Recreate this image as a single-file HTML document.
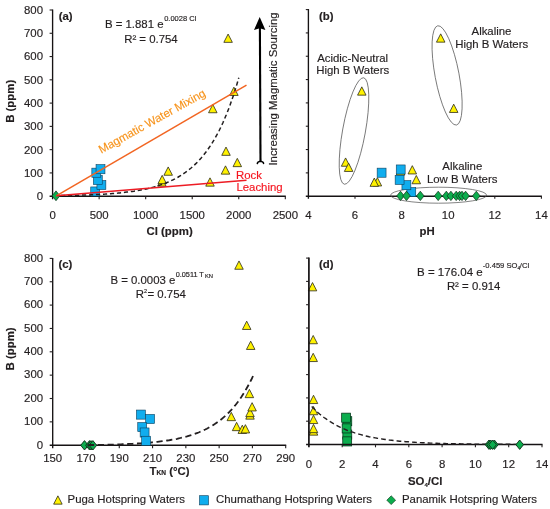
<!DOCTYPE html>
<html><head><meta charset="utf-8"><title>Figure</title>
<style>
html,body{margin:0;padding:0;background:#fff}
svg{display:block}
text{font-family:"Liberation Sans", sans-serif;fill:#231F20;stroke:#231F20;stroke-width:.16px}
.tk{font-size:11.4px}
.lb{font-size:11.4px}
.bd{font-size:11.4px;font-weight:bold}
.sup{font-size:7.5px}
.sup2{font-size:7.6px}
</style></head><body>
<svg width="550" height="509" viewBox="0 0 550 509">
<rect width="550" height="509" fill="#fff"/>
<g id="pa">
<path d="M52.6 9.5V199.2M49.6 196.2H285.8" fill="none" stroke="#161314" stroke-width="1.35"/>
<path d="M99.14 196.2v3.0" stroke="#231F20" stroke-width="1.1"/>
<path d="M145.68 196.2v3.0" stroke="#231F20" stroke-width="1.1"/>
<path d="M192.22 196.2v3.0" stroke="#231F20" stroke-width="1.1"/>
<path d="M238.76 196.2v3.0" stroke="#231F20" stroke-width="1.1"/>
<path d="M285.30 196.2v3.0" stroke="#231F20" stroke-width="1.1"/>
<path d="M52.6 172.92h-3.0" stroke="#231F20" stroke-width="1.1"/>
<path d="M52.6 149.65h-3.0" stroke="#231F20" stroke-width="1.1"/>
<path d="M52.6 126.38h-3.0" stroke="#231F20" stroke-width="1.1"/>
<path d="M52.6 103.10h-3.0" stroke="#231F20" stroke-width="1.1"/>
<path d="M52.6 79.82h-3.0" stroke="#231F20" stroke-width="1.1"/>
<path d="M52.6 56.55h-3.0" stroke="#231F20" stroke-width="1.1"/>
<path d="M52.6 33.28h-3.0" stroke="#231F20" stroke-width="1.1"/>
<path d="M52.6 10.00h-3.0" stroke="#231F20" stroke-width="1.1"/>
<text x="52.60" y="219.0" text-anchor="middle" class="tk">0</text>
<text x="99.14" y="219.0" text-anchor="middle" class="tk">500</text>
<text x="145.68" y="219.0" text-anchor="middle" class="tk">1000</text>
<text x="192.22" y="219.0" text-anchor="middle" class="tk">1500</text>
<text x="238.76" y="219.0" text-anchor="middle" class="tk">2000</text>
<text x="285.30" y="219.0" text-anchor="middle" class="tk">2500</text>
<text x="43.0" y="200.10" text-anchor="end" class="tk">0</text>
<text x="43.0" y="176.82" text-anchor="end" class="tk">100</text>
<text x="43.0" y="153.55" text-anchor="end" class="tk">200</text>
<text x="43.0" y="130.28" text-anchor="end" class="tk">300</text>
<text x="43.0" y="107.00" text-anchor="end" class="tk">400</text>
<text x="43.0" y="83.72" text-anchor="end" class="tk">500</text>
<text x="43.0" y="60.45" text-anchor="end" class="tk">600</text>
<text x="43.0" y="37.18" text-anchor="end" class="tk">700</text>
<text x="43.0" y="13.90" text-anchor="end" class="tk">800</text>
<rect x="90.75" y="186.95" width="8.9" height="9.1" fill="#10ADEE" stroke="#0d3f5c" stroke-width="0.6"/>
<rect x="96.95" y="180.45" width="8.9" height="9.1" fill="#10ADEE" stroke="#0d3f5c" stroke-width="0.6"/>
<rect x="93.35" y="175.45" width="8.9" height="9.1" fill="#10ADEE" stroke="#0d3f5c" stroke-width="0.6"/>
<rect x="91.85" y="168.15" width="8.9" height="9.1" fill="#10ADEE" stroke="#0d3f5c" stroke-width="0.6"/>
<rect x="96.05" y="164.65" width="8.9" height="9.1" fill="#10ADEE" stroke="#0d3f5c" stroke-width="0.6"/>
<path d="M223.85 42.35L228.10 34.05L232.35 42.35Z" fill="#FFF200" stroke="#2b2a1a" stroke-width="0.8" stroke-linejoin="miter"/>
<path d="M229.65 95.45L233.90 87.15L238.15 95.45Z" fill="#FFF200" stroke="#2b2a1a" stroke-width="0.8" stroke-linejoin="miter"/>
<path d="M208.55 112.75L212.80 104.45L217.05 112.75Z" fill="#FFF200" stroke="#2b2a1a" stroke-width="0.8" stroke-linejoin="miter"/>
<path d="M221.75 155.35L226.00 147.05L230.25 155.35Z" fill="#FFF200" stroke="#2b2a1a" stroke-width="0.8" stroke-linejoin="miter"/>
<path d="M233.05 166.65L237.30 158.35L241.55 166.65Z" fill="#FFF200" stroke="#2b2a1a" stroke-width="0.8" stroke-linejoin="miter"/>
<path d="M221.25 174.15L225.50 165.85L229.75 174.15Z" fill="#FFF200" stroke="#2b2a1a" stroke-width="0.8" stroke-linejoin="miter"/>
<path d="M163.95 175.25L168.20 166.95L172.45 175.25Z" fill="#FFF200" stroke="#2b2a1a" stroke-width="0.8" stroke-linejoin="miter"/>
<path d="M157.55 186.15L161.80 177.85L166.05 186.15Z" fill="#FFF200" stroke="#2b2a1a" stroke-width="0.8" stroke-linejoin="miter"/>
<path d="M157.95 183.65L162.20 175.35L166.45 183.65Z" fill="#FFF200" stroke="#2b2a1a" stroke-width="0.8" stroke-linejoin="miter"/>
<path d="M205.75 186.15L210.00 177.85L214.25 186.15Z" fill="#FFF200" stroke="#2b2a1a" stroke-width="0.8" stroke-linejoin="miter"/>
<path d="M52.10 195.80L56.00 190.90L59.90 195.80L56.00 200.70Z" fill="#0CAD4E" stroke="#0c2a14" stroke-width="0.7"/>
<path d="M61.0 195.6 L62.8 195.6 L64.5 195.6 L66.3 195.5 L68.1 195.5 L69.9 195.5 L71.6 195.4 L73.4 195.4 L75.2 195.3 L77.0 195.3 L78.8 195.2 L80.5 195.2 L82.3 195.1 L84.1 195.1 L85.9 195.0 L87.6 194.9 L89.4 194.9 L91.2 194.8 L93.0 194.7 L94.8 194.6 L96.5 194.6 L98.3 194.5 L100.1 194.4 L101.9 194.3 L103.6 194.2 L105.4 194.1 L107.2 193.9 L109.0 193.8 L110.8 193.7 L112.5 193.5 L114.3 193.4 L116.1 193.2 L117.9 193.1 L119.6 192.9 L121.4 192.7 L123.2 192.5 L125.0 192.3 L126.8 192.1 L128.5 191.9 L130.3 191.7 L132.1 191.4 L133.9 191.2 L135.6 190.9 L137.4 190.6 L139.2 190.3 L141.0 189.9 L142.8 189.6 L144.5 189.2 L146.3 188.9 L148.1 188.5 L149.9 188.0 L151.6 187.6 L153.4 187.1 L155.2 186.6 L157.0 186.1 L158.8 185.5 L160.5 184.9 L162.3 184.3 L164.1 183.7 L165.9 183.0 L167.6 182.3 L169.4 181.5 L171.2 180.7 L173.0 179.8 L174.8 178.9 L176.5 178.0 L178.3 177.0 L180.1 175.9 L181.9 174.8 L183.6 173.6 L185.4 172.4 L187.2 171.1 L189.0 169.7 L190.8 168.3 L192.5 166.7 L194.3 165.1 L196.1 163.4 L197.9 161.6 L199.6 159.7 L201.4 157.7 L203.2 155.6 L205.0 153.3 L206.8 151.0 L208.5 148.5 L210.3 145.9 L212.1 143.1 L213.9 140.2 L215.6 137.1 L217.4 133.9 L219.2 130.5 L221.0 126.8 L222.8 123.0 L224.5 119.0 L226.3 114.8 L228.1 110.3 L229.9 105.6 L231.6 100.6 L233.4 95.4 L235.2 89.8 L237.0 84.0 L238.8 77.8" stroke="#231F20" stroke-width="1.5" fill="none" stroke-dasharray="4.2 2.8"/>
<path d="M56.3 195.9L246.5 85.1" stroke="#F26522" stroke-width="1.5" fill="none"/>
<path d="M56.3 195.8L246.5 180.2" stroke="#ED1C24" stroke-width="1.5" fill="none"/>
<path d="M259.9 28L260.5 161" stroke="#000" stroke-width="2.1" fill="none"/>
<path d="M259.7 16.9L265.4 30L259.8 28.3L254 30Z" fill="#000"/>
<path d="M257.3 163.6C257.4 161.9 258.6 161.5 260.5 161.2C262.4 161.5 263.4 161.9 263.6 163.4" stroke="#000" stroke-width="1.5" fill="none" stroke-linecap="round"/>
<text transform="translate(277,89) rotate(-90)" text-anchor="middle" class="lb">Increasing Magmatic Sourcing</text>
<text x="58.7" y="20" class="bd">(a)</text>
<text x="104.9" y="28.4" class="lb">B = 1.881 e</text><text x="164.2" y="21.1" class="sup">0.0028 Cl</text>
<text x="124.2" y="42.8" class="lb">R² = 0.754</text>
<text transform="translate(153.8,124.7) rotate(-29)" text-anchor="middle" class="lb" style="fill:#F7941D;stroke:#F7941D;font-size:11.55px">Magmatic Water Mixing</text>
<text x="236" y="179.1" class="lb" style="fill:#F5151F;stroke:#F5151F">Rock</text><text x="236.4" y="191.2" class="lb" style="fill:#F5151F;stroke:#F5151F">Leaching</text>
<text transform="translate(14.1,101.3) rotate(-90)" text-anchor="middle" class="bd">B (ppm)</text>
<text x="169.6" y="235.3" text-anchor="middle" class="bd">Cl (ppm)</text>
</g>
<g id="pb">
<path d="M308.4 9.1V198.79999999999998M305.79999999999995 196.2H541.9" fill="none" stroke="#161314" stroke-width="1.35"/>
<path d="M355.00 196.2v2.6" stroke="#231F20" stroke-width="1.1"/>
<path d="M401.60 196.2v2.6" stroke="#231F20" stroke-width="1.1"/>
<path d="M448.20 196.2v2.6" stroke="#231F20" stroke-width="1.1"/>
<path d="M494.80 196.2v2.6" stroke="#231F20" stroke-width="1.1"/>
<path d="M541.40 196.2v2.6" stroke="#231F20" stroke-width="1.1"/>
<path d="M308.4 172.88h-2.6" stroke="#231F20" stroke-width="1.1"/>
<path d="M308.4 149.55h-2.6" stroke="#231F20" stroke-width="1.1"/>
<path d="M308.4 126.22h-2.6" stroke="#231F20" stroke-width="1.1"/>
<path d="M308.4 102.90h-2.6" stroke="#231F20" stroke-width="1.1"/>
<path d="M308.4 79.57h-2.6" stroke="#231F20" stroke-width="1.1"/>
<path d="M308.4 56.25h-2.6" stroke="#231F20" stroke-width="1.1"/>
<path d="M308.4 32.92h-2.6" stroke="#231F20" stroke-width="1.1"/>
<path d="M308.4 9.60h-2.6" stroke="#231F20" stroke-width="1.1"/>
<text x="308.40" y="219.0" text-anchor="middle" class="tk">4</text>
<text x="355.00" y="219.0" text-anchor="middle" class="tk">6</text>
<text x="401.60" y="219.0" text-anchor="middle" class="tk">8</text>
<text x="448.20" y="219.0" text-anchor="middle" class="tk">10</text>
<text x="494.80" y="219.0" text-anchor="middle" class="tk">12</text>
<text x="541.40" y="219.0" text-anchor="middle" class="tk">14</text>
<ellipse cx="354" cy="131" rx="11.4" ry="54.1" transform="rotate(10.3 354 131)" fill="none" stroke="#4d4d4d" stroke-width="0.7"/>
<ellipse cx="447.1" cy="75.4" rx="12" ry="50.5" transform="rotate(-10.7 447.1 75.4)" fill="none" stroke="#4d4d4d" stroke-width="0.7"/>
<ellipse cx="438.6" cy="195.2" rx="48" ry="8.0" fill="none" stroke="#4d4d4d" stroke-width="0.7"/>
<path d="M436.45 42.15L440.70 33.85L444.95 42.15Z" fill="#FFF200" stroke="#2b2a1a" stroke-width="0.8" stroke-linejoin="miter"/>
<path d="M449.45 112.45L453.70 104.15L457.95 112.45Z" fill="#FFF200" stroke="#2b2a1a" stroke-width="0.8" stroke-linejoin="miter"/>
<path d="M357.55 95.15L361.80 86.85L366.05 95.15Z" fill="#FFF200" stroke="#2b2a1a" stroke-width="0.8" stroke-linejoin="miter"/>
<path d="M341.35 166.25L345.60 157.95L349.85 166.25Z" fill="#FFF200" stroke="#2b2a1a" stroke-width="0.8" stroke-linejoin="miter"/>
<path d="M344.35 171.45L348.60 163.15L352.85 171.45Z" fill="#FFF200" stroke="#2b2a1a" stroke-width="0.8" stroke-linejoin="miter"/>
<path d="M373.15 185.95L377.40 177.65L381.65 185.95Z" fill="#FFF200" stroke="#2b2a1a" stroke-width="0.8" stroke-linejoin="miter"/>
<path d="M370.05 186.35L374.30 178.05L378.55 186.35Z" fill="#FFF200" stroke="#2b2a1a" stroke-width="0.8" stroke-linejoin="miter"/>
<path d="M396.35 175.05L400.60 166.75L404.85 175.05Z" fill="#FFF200" stroke="#2b2a1a" stroke-width="0.8" stroke-linejoin="miter"/>
<rect x="377.15" y="168.15" width="8.9" height="9.1" fill="#10ADEE" stroke="#0d3f5c" stroke-width="0.6"/>
<rect x="396.25" y="164.95" width="8.9" height="9.1" fill="#10ADEE" stroke="#0d3f5c" stroke-width="0.6"/>
<rect x="406.85" y="187.55" width="8.9" height="9.1" fill="#10ADEE" stroke="#0d3f5c" stroke-width="0.6"/>
<rect x="401.95" y="180.65" width="8.9" height="9.1" fill="#10ADEE" stroke="#0d3f5c" stroke-width="0.6"/>
<rect x="395.15" y="175.35" width="8.9" height="9.1" fill="#10ADEE" stroke="#0d3f5c" stroke-width="0.6"/>
<path d="M408.05 173.95L412.30 165.65L416.55 173.95Z" fill="#FFF200" stroke="#2b2a1a" stroke-width="0.8" stroke-linejoin="miter"/>
<path d="M412.05 183.75L416.30 175.45L420.55 183.75Z" fill="#FFF200" stroke="#2b2a1a" stroke-width="0.8" stroke-linejoin="miter"/>
<path d="M396.70 195.90L400.50 191.20L404.30 195.90L400.50 200.60Z" fill="#0CAD4E" stroke="#0c2a14" stroke-width="0.7"/>
<path d="M402.70 195.90L406.50 191.20L410.30 195.90L406.50 200.60Z" fill="#0CAD4E" stroke="#0c2a14" stroke-width="0.7"/>
<path d="M416.50 195.90L420.30 191.20L424.10 195.90L420.30 200.60Z" fill="#0CAD4E" stroke="#0c2a14" stroke-width="0.7"/>
<path d="M434.40 195.90L438.20 191.20L442.00 195.90L438.20 200.60Z" fill="#0CAD4E" stroke="#0c2a14" stroke-width="0.7"/>
<path d="M442.50 195.90L446.30 191.20L450.10 195.90L446.30 200.60Z" fill="#0CAD4E" stroke="#0c2a14" stroke-width="0.7"/>
<path d="M447.10 195.90L450.90 191.20L454.70 195.90L450.90 200.60Z" fill="#0CAD4E" stroke="#0c2a14" stroke-width="0.7"/>
<path d="M452.40 195.90L456.20 191.20L460.00 195.90L456.20 200.60Z" fill="#0CAD4E" stroke="#0c2a14" stroke-width="0.7"/>
<path d="M455.80 195.90L459.60 191.20L463.40 195.90L459.60 200.60Z" fill="#0CAD4E" stroke="#0c2a14" stroke-width="0.7"/>
<path d="M458.20 195.90L462.00 191.20L465.80 195.90L462.00 200.60Z" fill="#0CAD4E" stroke="#0c2a14" stroke-width="0.7"/>
<path d="M461.80 195.90L465.60 191.20L469.40 195.90L465.60 200.60Z" fill="#0CAD4E" stroke="#0c2a14" stroke-width="0.7"/>
<path d="M472.50 195.90L476.30 191.20L480.10 195.90L476.30 200.60Z" fill="#0CAD4E" stroke="#0c2a14" stroke-width="0.7"/>
<text x="318.9" y="20" class="bd">(b)</text>
<text x="352.6" y="61.8" text-anchor="middle" class="lb">Acidic-Neutral</text><text x="352.7" y="74.4" text-anchor="middle" class="lb">High B Waters</text>
<text x="491.5" y="35" text-anchor="middle" class="lb">Alkaline</text><text x="491.7" y="47.9" text-anchor="middle" class="lb">High B Waters</text>
<text x="462.3" y="170" text-anchor="middle" class="lb">Alkaline</text><text x="462.2" y="182.7" text-anchor="middle" class="lb">Low B Waters</text>
<text x="427.2" y="234.7" text-anchor="middle" class="bd">pH</text>
</g>
<g id="pc">
<path d="M52.7 257.9V448.2M49.7 445.2H286.2" fill="none" stroke="#161314" stroke-width="1.35"/>
<path d="M85.99 445.2v3.0" stroke="#231F20" stroke-width="1.1"/>
<path d="M119.27 445.2v3.0" stroke="#231F20" stroke-width="1.1"/>
<path d="M152.56 445.2v3.0" stroke="#231F20" stroke-width="1.1"/>
<path d="M185.84 445.2v3.0" stroke="#231F20" stroke-width="1.1"/>
<path d="M219.13 445.2v3.0" stroke="#231F20" stroke-width="1.1"/>
<path d="M252.41 445.2v3.0" stroke="#231F20" stroke-width="1.1"/>
<path d="M285.70 445.2v3.0" stroke="#231F20" stroke-width="1.1"/>
<path d="M52.7 421.85h-3.0" stroke="#231F20" stroke-width="1.1"/>
<path d="M52.7 398.50h-3.0" stroke="#231F20" stroke-width="1.1"/>
<path d="M52.7 375.15h-3.0" stroke="#231F20" stroke-width="1.1"/>
<path d="M52.7 351.80h-3.0" stroke="#231F20" stroke-width="1.1"/>
<path d="M52.7 328.45h-3.0" stroke="#231F20" stroke-width="1.1"/>
<path d="M52.7 305.10h-3.0" stroke="#231F20" stroke-width="1.1"/>
<path d="M52.7 281.75h-3.0" stroke="#231F20" stroke-width="1.1"/>
<path d="M52.7 258.40h-3.0" stroke="#231F20" stroke-width="1.1"/>
<text x="52.70" y="461.5" text-anchor="middle" class="tk">150</text>
<text x="85.99" y="461.5" text-anchor="middle" class="tk">170</text>
<text x="119.27" y="461.5" text-anchor="middle" class="tk">190</text>
<text x="152.56" y="461.5" text-anchor="middle" class="tk">210</text>
<text x="185.84" y="461.5" text-anchor="middle" class="tk">230</text>
<text x="219.13" y="461.5" text-anchor="middle" class="tk">250</text>
<text x="252.41" y="461.5" text-anchor="middle" class="tk">270</text>
<text x="285.70" y="461.5" text-anchor="middle" class="tk">290</text>
<text x="43.1" y="448.50" text-anchor="end" class="tk">0</text>
<text x="43.1" y="425.15" text-anchor="end" class="tk">100</text>
<text x="43.1" y="401.80" text-anchor="end" class="tk">200</text>
<text x="43.1" y="378.45" text-anchor="end" class="tk">300</text>
<text x="43.1" y="355.10" text-anchor="end" class="tk">400</text>
<text x="43.1" y="331.75" text-anchor="end" class="tk">500</text>
<text x="43.1" y="308.40" text-anchor="end" class="tk">600</text>
<text x="43.1" y="285.05" text-anchor="end" class="tk">700</text>
<text x="43.1" y="261.70" text-anchor="end" class="tk">800</text>
<path d="M80.70 445.30L84.50 440.60L88.30 445.30L84.50 450.00Z" fill="#0CAD4E" stroke="#0c2a14" stroke-width="0.9"/>
<path d="M85.70 445.30L89.50 440.60L93.30 445.30L89.50 450.00Z" fill="#0CAD4E" stroke="#0c2a14" stroke-width="0.9"/>
<path d="M87.20 445.30L91.00 440.60L94.80 445.30L91.00 450.00Z" fill="#0CAD4E" stroke="#0c2a14" stroke-width="0.9"/>
<path d="M89.10 445.30L92.90 440.60L96.70 445.30L92.90 450.00Z" fill="#0CAD4E" stroke="#0c2a14" stroke-width="0.9"/>
<path d="M88.0 445.1 L89.6 445.0 L91.3 445.0 L92.9 445.0 L94.6 445.0 L96.2 444.9 L97.9 444.9 L99.5 444.9 L101.2 444.8 L102.8 444.8 L104.5 444.8 L106.1 444.7 L107.8 444.7 L109.4 444.7 L111.1 444.6 L112.7 444.6 L114.4 444.5 L116.0 444.5 L117.7 444.4 L119.3 444.4 L121.0 444.3 L122.6 444.2 L124.3 444.2 L125.9 444.1 L127.6 444.0 L129.2 443.9 L130.9 443.9 L132.5 443.8 L134.2 443.7 L135.8 443.6 L137.5 443.5 L139.1 443.4 L140.8 443.3 L142.4 443.2 L144.1 443.1 L145.7 442.9 L147.4 442.8 L149.0 442.6 L150.7 442.5 L152.3 442.3 L154.0 442.2 L155.6 442.0 L157.3 441.8 L158.9 441.6 L160.6 441.4 L162.2 441.2 L163.9 441.0 L165.5 440.8 L167.2 440.5 L168.8 440.3 L170.5 440.0 L172.1 439.7 L173.8 439.4 L175.5 439.1 L177.1 438.8 L178.8 438.4 L180.4 438.0 L182.1 437.6 L183.7 437.2 L185.4 436.8 L187.0 436.4 L188.7 435.9 L190.3 435.4 L192.0 434.9 L193.6 434.3 L195.3 433.7 L196.9 433.1 L198.6 432.5 L200.2 431.8 L201.9 431.1 L203.5 430.3 L205.2 429.5 L206.8 428.7 L208.5 427.8 L210.1 426.9 L211.8 425.9 L213.4 424.9 L215.1 423.8 L216.7 422.7 L218.4 421.5 L220.0 420.3 L221.7 419.0 L223.3 417.6 L225.0 416.2 L226.6 414.6 L228.3 413.0 L229.9 411.3 L231.6 409.6 L233.2 407.7 L234.9 405.7 L236.5 403.7 L238.2 401.5 L239.8 399.2 L241.5 396.8 L243.1 394.2 L244.8 391.6 L246.4 388.8 L248.1 385.8 L249.7 382.7 L251.4 379.5 L253.0 376.0" stroke="#231F20" stroke-width="1.8" fill="none" stroke-dasharray="6.2 3.6"/>
<path d="M234.75 269.25L239.00 260.95L243.25 269.25Z" fill="#FFF200" stroke="#2b2a1a" stroke-width="0.8" stroke-linejoin="miter"/>
<path d="M242.45 329.45L246.70 321.15L250.95 329.45Z" fill="#FFF200" stroke="#2b2a1a" stroke-width="0.8" stroke-linejoin="miter"/>
<path d="M246.45 349.45L250.70 341.15L254.95 349.45Z" fill="#FFF200" stroke="#2b2a1a" stroke-width="0.8" stroke-linejoin="miter"/>
<path d="M245.15 397.65L249.40 389.35L253.65 397.65Z" fill="#FFF200" stroke="#2b2a1a" stroke-width="0.8" stroke-linejoin="miter"/>
<path d="M245.75 419.15L250.00 410.85L254.25 419.15Z" fill="#FFF200" stroke="#2b2a1a" stroke-width="0.8" stroke-linejoin="miter"/>
<path d="M245.75 416.65L250.00 408.35L254.25 416.65Z" fill="#FFF200" stroke="#2b2a1a" stroke-width="0.8" stroke-linejoin="miter"/>
<path d="M247.85 410.95L252.10 402.65L256.35 410.95Z" fill="#FFF200" stroke="#2b2a1a" stroke-width="0.8" stroke-linejoin="miter"/>
<path d="M227.05 420.65L231.30 412.35L235.55 420.65Z" fill="#FFF200" stroke="#2b2a1a" stroke-width="0.8" stroke-linejoin="miter"/>
<path d="M232.35 430.65L236.60 422.35L240.85 430.65Z" fill="#FFF200" stroke="#2b2a1a" stroke-width="0.8" stroke-linejoin="miter"/>
<path d="M238.05 433.45L242.30 425.15L246.55 433.45Z" fill="#FFF200" stroke="#2b2a1a" stroke-width="0.8" stroke-linejoin="miter"/>
<path d="M241.15 432.95L245.40 424.65L249.65 432.95Z" fill="#FFF200" stroke="#2b2a1a" stroke-width="0.8" stroke-linejoin="miter"/>
<rect x="136.45" y="410.05" width="8.9" height="9.1" fill="#10ADEE" stroke="#0d3f5c" stroke-width="0.6"/>
<rect x="145.65" y="414.45" width="8.9" height="9.1" fill="#10ADEE" stroke="#0d3f5c" stroke-width="0.6"/>
<rect x="137.75" y="422.55" width="8.9" height="9.1" fill="#10ADEE" stroke="#0d3f5c" stroke-width="0.6"/>
<rect x="140.15" y="427.95" width="8.9" height="9.1" fill="#10ADEE" stroke="#0d3f5c" stroke-width="0.6"/>
<rect x="141.65" y="436.25" width="8.9" height="9.1" fill="#10ADEE" stroke="#0d3f5c" stroke-width="0.6"/>
<text x="58.4" y="267.5" class="bd">(c)</text>
<text x="110.4" y="283.8" class="lb">B = 0.0003 e</text><text x="175.7" y="276.6" class="sup" style="font-size:7.3px">0.0511 T</text><text x="204.9" y="278.4" style="font-size:5.8px">KN</text>
<text x="135.8" y="297.8" class="lb">R</text><text x="144" y="292.8" style="font-size:5.5px">2</text><text x="147.5" y="297.8" class="lb">= 0.754</text>
<text transform="translate(14.1,348.9) rotate(-90)" text-anchor="middle" class="bd">B (ppm)</text>
<text x="149.6" y="474.6" class="bd">T<tspan font-size="6.6">KN</tspan> (°C)</text>
</g>
<g id="pd">
<path d="M308.25 290.85L312.50 282.55L316.75 290.85Z" fill="#FFF200" stroke="#2b2a1a" stroke-width="0.8" stroke-linejoin="miter"/>
<path d="M308.95 343.75L313.20 335.45L317.45 343.75Z" fill="#FFF200" stroke="#2b2a1a" stroke-width="0.8" stroke-linejoin="miter"/>
<path d="M308.95 361.55L313.20 353.25L317.45 361.55Z" fill="#FFF200" stroke="#2b2a1a" stroke-width="0.8" stroke-linejoin="miter"/>
<path d="M309.25 403.55L313.50 395.25L317.75 403.55Z" fill="#FFF200" stroke="#2b2a1a" stroke-width="0.8" stroke-linejoin="miter"/>
<path d="M309.25 414.75L313.50 406.45L317.75 414.75Z" fill="#FFF200" stroke="#2b2a1a" stroke-width="0.8" stroke-linejoin="miter"/>
<path d="M309.25 423.55L313.50 415.25L317.75 423.55Z" fill="#FFF200" stroke="#2b2a1a" stroke-width="0.8" stroke-linejoin="miter"/>
<path d="M309.25 435.15L313.50 426.85L317.75 435.15Z" fill="#FFF200" stroke="#2b2a1a" stroke-width="0.8" stroke-linejoin="miter"/>
<path d="M309.25 432.65L313.50 424.35L317.75 432.65Z" fill="#FFF200" stroke="#2b2a1a" stroke-width="0.8" stroke-linejoin="miter"/>
<rect x="342.85" y="416.65" width="8.9" height="9.1" fill="#0CAD4E" stroke="#06351a" stroke-width="0.75"/>
<rect x="341.65" y="413.15" width="8.9" height="9.1" fill="#0CAD4E" stroke="#06351a" stroke-width="0.75"/>
<rect x="342.85" y="430.05" width="8.9" height="9.1" fill="#0CAD4E" stroke="#06351a" stroke-width="0.75"/>
<rect x="342.15" y="423.85" width="8.9" height="9.1" fill="#0CAD4E" stroke="#06351a" stroke-width="0.75"/>
<rect x="342.75" y="436.85" width="8.9" height="9.1" fill="#0CAD4E" stroke="#06351a" stroke-width="0.75"/>
<path d="M308.9 257.6V447.3M306.09999999999997 444.5H542.5" fill="none" stroke="#161314" stroke-width="1.7"/>
<path d="M342.20 444.5v2.8" stroke="#231F20" stroke-width="1.1"/>
<path d="M375.50 444.5v2.8" stroke="#231F20" stroke-width="1.1"/>
<path d="M408.80 444.5v2.8" stroke="#231F20" stroke-width="1.1"/>
<path d="M442.10 444.5v2.8" stroke="#231F20" stroke-width="1.1"/>
<path d="M475.40 444.5v2.8" stroke="#231F20" stroke-width="1.1"/>
<path d="M508.70 444.5v2.8" stroke="#231F20" stroke-width="1.1"/>
<path d="M542.00 444.5v2.8" stroke="#231F20" stroke-width="1.1"/>
<path d="M308.9 421.20h-2.8" stroke="#231F20" stroke-width="1.1"/>
<path d="M308.9 397.90h-2.8" stroke="#231F20" stroke-width="1.1"/>
<path d="M308.9 374.60h-2.8" stroke="#231F20" stroke-width="1.1"/>
<path d="M308.9 351.30h-2.8" stroke="#231F20" stroke-width="1.1"/>
<path d="M308.9 328.00h-2.8" stroke="#231F20" stroke-width="1.1"/>
<path d="M308.9 304.70h-2.8" stroke="#231F20" stroke-width="1.1"/>
<path d="M308.9 281.40h-2.8" stroke="#231F20" stroke-width="1.1"/>
<path d="M308.9 258.10h-2.8" stroke="#231F20" stroke-width="1.1"/>
<text x="308.90" y="467.7" text-anchor="middle" class="tk">0</text>
<text x="342.20" y="467.7" text-anchor="middle" class="tk">2</text>
<text x="375.50" y="467.7" text-anchor="middle" class="tk">4</text>
<text x="408.80" y="467.7" text-anchor="middle" class="tk">6</text>
<text x="442.10" y="467.7" text-anchor="middle" class="tk">8</text>
<text x="475.40" y="467.7" text-anchor="middle" class="tk">10</text>
<text x="508.70" y="467.7" text-anchor="middle" class="tk">12</text>
<text x="542.00" y="467.7" text-anchor="middle" class="tk">14</text>
<path d="M311.7 406.6 L313.8 408.6 L315.8 410.6 L317.9 412.5 L319.9 414.2 L322.0 415.9 L324.0 417.5 L326.1 418.9 L328.1 420.3 L330.2 421.7 L332.2 422.9 L334.3 424.1 L336.3 425.2 L338.4 426.3 L340.4 427.3 L342.4 428.2 L344.5 429.1 L346.5 430.0 L348.6 430.8 L350.6 431.5 L352.7 432.2 L354.7 432.9 L356.8 433.5 L358.8 434.1 L360.9 434.7 L362.9 435.3 L365.0 435.8 L367.0 436.2 L369.1 436.7 L371.1 437.1 L373.2 437.5 L375.2 437.9 L377.3 438.3 L379.3 438.6 L381.4 438.9 L383.4 439.2 L385.5 439.5 L387.5 439.8 L389.6 440.1 L391.6 440.3 L393.6 440.5 L395.7 440.8 L397.7 441.0 L399.8 441.2 L401.8 441.3 L403.9 441.5 L405.9 441.7 L408.0 441.8 L410.0 442.0 L412.1 442.1 L414.1 442.2 L416.2 442.4 L418.2 442.5 L420.3 442.6 L422.3 442.7 L424.4 442.8 L426.4 442.9 L428.5 443.0 L430.5 443.1 L432.6 443.1 L434.6 443.2 L436.7 443.3 L438.7 443.4 L440.8 443.4 L442.8 443.5 L444.8 443.5 L446.9 443.6 L448.9 443.6 L451.0 443.7 L453.0 443.7 L455.1 443.8 L457.1 443.8 L459.2 443.8 L461.2 443.9 L463.3 443.9 L465.3 444.0 L467.4 444.0 L469.4 444.0 L471.5 444.0 L473.5 444.1 L475.6 444.1 L477.6 444.1 L479.7 444.1 L481.7 444.2 L483.8 444.2 L485.8 444.2 L487.9 444.2 L489.9 444.2 L492.0 444.2 L494.0 444.3 L496.0 444.3 L498.1 444.3 L500.1 444.3 L502.2 444.3 L504.2 444.3 L506.3 444.3 L508.3 444.3 L510.4 444.3 L512.4 444.3 L514.5 444.4 L516.5 444.4" stroke="#231F20" stroke-width="1.4" fill="none" stroke-dasharray="4.8 3"/>
<path d="M485.20 444.70L489.00 440.00L492.80 444.70L489.00 449.40Z" fill="#0CAD4E" stroke="#0c2a14" stroke-width="0.9"/>
<path d="M490.60 444.70L494.40 440.00L498.20 444.70L494.40 449.40Z" fill="#0CAD4E" stroke="#0c2a14" stroke-width="0.9"/>
<path d="M486.80 444.70L490.60 440.00L494.40 444.70L490.60 449.40Z" fill="#0CAD4E" stroke="#0c2a14" stroke-width="0.9"/>
<path d="M488.80 444.70L492.60 440.00L496.40 444.70L492.60 449.40Z" fill="#0CAD4E" stroke="#0c2a14" stroke-width="0.9"/>
<path d="M515.90 444.70L519.70 440.00L523.50 444.70L519.70 449.40Z" fill="#0CAD4E" stroke="#0c2a14" stroke-width="0.9"/>
<text x="318.9" y="268" class="bd">(d)</text>
<text x="417.1" y="276.3" class="lb" style="font-size:11.5px">B = 176.04 e</text><text x="482.8" y="268.4" class="sup2">-0.459 SO</text><text x="517.5" y="270" style="font-size:4.8px">4</text><text x="519.8" y="268.4" class="sup2">/Cl</text>
<text x="446.9" y="289.6" class="lb">R² = 0.914</text>
<text x="408" y="484.5" class="bd">SO<tspan font-size="6" dy="2.2">4</tspan><tspan dy="-2.2">/Cl</tspan></text>
</g>
<g id="lg">
<path d="M53.65 504.15L57.90 495.85L62.15 504.15Z" fill="#FFF200" stroke="#2b2a1a" stroke-width="0.8" stroke-linejoin="miter"/>
<text x="67.6" y="503" class="lb">Puga Hotspring Waters</text>
<rect x="199.50" y="495.70" width="9.0" height="9.2" fill="#10ADEE" stroke="#0d3f5c" stroke-width="0.6"/>
<text x="216" y="503" class="lb">Chumathang Hotspring Waters</text>
<path d="M386.80 500.20L391.20 495.80L395.60 500.20L391.20 504.60Z" fill="#0CAD4E" stroke="#0c2a14" stroke-width="0.6"/>
<text x="402" y="503" class="lb">Panamik Hotspring Waters</text>
</g>
</svg>
</body></html>
